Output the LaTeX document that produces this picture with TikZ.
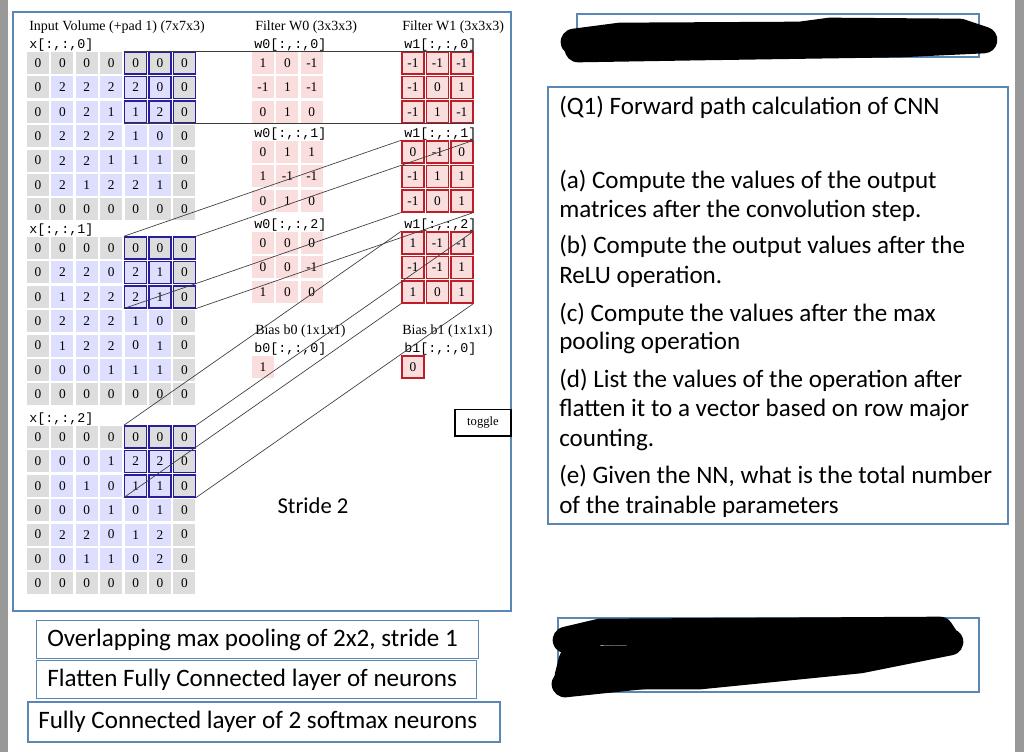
\documentclass[tikz,border=0pt]{standalone}
\usepackage{fontspec}
\setmainfont{Liberation Serif}
\newfontfamily\calib{Carlito}
\setmonofont{Liberation Mono}
\definecolor{padc}{RGB}{221,221,221}
\definecolor{inc}{RGB}{222,222,255}
\definecolor{filc}{RGB}{250,222,222}
\definecolor{hlb}{RGB}{40,30,150}
\definecolor{hlr}{RGB}{190,30,40}
\definecolor{boxb}{RGB}{90,135,180}
\definecolor{linec}{RGB}{60,60,60}
\tikzset{
  cell/.style={minimum size=16.5pt,inner sep=0pt,font=\fontsize{10}{10}\selectfont},
  hl/.style={draw=hlb,line width=1.1pt},
  hr/.style={draw=hlr,line width=1.1pt},
  lab/.style={anchor=west,inner sep=0pt,font=\fontsize{10.5}{10.5}\selectfont},
  mlab/.style={anchor=west,inner sep=0pt,font=\ttfamily\fontsize{10}{10}\selectfont},
  qtxt/.style={anchor=west,inner sep=0pt,font=\calib\fontsize{18.8}{18.8}\selectfont},
  bbox/.style={draw=boxb,line width=0.8pt},
  conn/.style={draw=linec,line width=0.5pt},
  scrib/.style={line width=20pt,line cap=round,line join=round,black}
}
\begin{document}
\begin{tikzpicture}[x=0.75pt,y=-0.75pt]
\useasboundingbox (0,0) rectangle (1024,752);
\fill[white] (0,0) rectangle (1024,752);
\fill[black!40] (0,0) rectangle (8,752);
\fill[black!40] (1015,0) rectangle (1024,752);
% main box
\draw[bbox] (13,12) rectangle (511,611);
\node[lab] (tin) at (29,27) {Input Volume (+pad 1) (7x7x3)};
\node[lab] (tw0) at (255,27) {Filter W0 (3x3x3)};
\node[lab] (tw1) at (402,27) {Filter W1 (3x3x3)};
% inputs
\foreach \k/\ty/\data in {0/63/{{0,0,0,0,0,0,0},{0,2,2,2,2,0,0},{0,0,2,1,1,2,0},{0,2,2,2,1,0,0},{0,2,2,1,1,1,0},{0,2,1,2,2,1,0},{0,0,0,0,0,0,0}},
                          1/248/{{0,0,0,0,0,0,0},{0,2,2,0,2,1,0},{0,1,2,2,2,1,0},{0,2,2,2,1,0,0},{0,1,2,2,0,1,0},{0,0,0,1,1,1,0},{0,0,0,0,0,0,0}},
                          2/437/{{0,0,0,0,0,0,0},{0,0,0,1,2,2,0},{0,0,1,0,1,1,0},{0,0,0,1,0,1,0},{0,2,2,0,1,2,0},{0,0,1,1,0,2,0},{0,0,0,0,0,0,0}}}{
  \node[mlab] (xl\k) at (29,\ty-18) {x[:,:,\k]};
  \foreach \row [count=\r from 0] in \data {
    \foreach \v [count=\c from 0] in \row {
      \pgfmathparse{(\c==0||\c==6||\r==0||\r==6)?1:0}
      \ifnum\pgfmathresult=1 \def\fc{padc}\else\def\fc{inc}\fi
      \pgfmathparse{(\c>3&&\r<3)?1:0}
      \ifnum\pgfmathresult=1 \def\st{hl}\else\def\st{}\fi
      \node[cell,fill=\fc,\st] (x\k-\r-\c) at (38+24.4*\c,\ty+24.4*\r) {\v};
    }
  }
}
% filter labels
\foreach \f/\fx in {0/263,1/413}{
  \foreach \k/\ty in {0/63,1/152,2/243}{
    \node[mlab] (wl\f\k) at (\fx-9,\ty-18) {w\f[:,:,\k]};
  }
}
\foreach \k/\ty/\data in {0/63/{{1,0,-1},{-1,1,-1},{0,1,0}},1/152/{{0,1,1},{1,-1,-1},{0,1,0}},2/243/{{0,0,0},{0,0,-1},{1,0,0}}}{
  \foreach \row [count=\r from 0] in \data {
    \foreach \v [count=\c from 0] in \row {
      \node[cell,fill=filc] (wa\k-\r-\c) at (263+24.4*\c,\ty+24.4*\r) {\v};
    }
  }
}
\foreach \k/\ty/\data in {0/63/{{-1,-1,-1},{-1,0,1},{-1,1,-1}},1/152/{{0,-1,0},{-1,1,1},{-1,0,1}},2/243/{{1,-1,-1},{-1,-1,1},{1,0,1}}}{
  \foreach \row [count=\r from 0] in \data {
    \foreach \v [count=\c from 0] in \row {
      \node[cell,fill=filc,hr] (wb\k-\r-\c) at (413+24.4*\c,\ty+24.4*\r) {\v};
    }
  }
}
% biases
\node[lab] (tb0) at (255,331) {Bias b0 (1x1x1)};
\node[mlab] (lb0) at (254,349) {b0[:,:,0]};
\node[cell,fill=filc] (b0) at (263,367) {1};
\node[lab] (tb1) at (402,331) {Bias b1 (1x1x1)};
\node[mlab] (lb1) at (404,349) {b1[:,:,0]};
\node[cell,fill=filc,hr] (b1) at (413,367) {0};
% connectors
\foreach \k in {0,1,2}{
  \draw[conn] (x\k-0-4.north west) -- (wb\k-0-0.north west);
  \draw[conn] (x\k-0-6.north east) -- (wb\k-0-2.north east);
  \draw[conn] (x\k-2-4.south west) -- (wb\k-2-0.south west);
  \draw[conn] (x\k-2-6.south east) -- (wb\k-2-2.south east);
}
% toggle
\node[draw=black,line width=1pt,minimum width=42pt,minimum height=20pt,inner sep=0pt,font=\fontsize{9.5}{9.5}\selectfont] (tog) at (483,422.5) {toggle};
\node[inner sep=0pt,font=\calib\fontsize{17}{17}\selectfont] (stride) at (313,506) {Stride 2};
% right question box
\draw[bbox] (548,87) rectangle (1008,524);
\node[qtxt] (q0) at (559,107) {(Q1) Forward path calculation of CNN};
\node[qtxt] (q1) at (559,181) {(a) Compute the values of the output};
\node[qtxt] (q2) at (559,211) {matrices after the convolution step.};
\node[qtxt] (q3) at (559,246) {(b) Compute the output values after the};
\node[qtxt] (q4) at (559,277) {ReLU operation.};
\node[qtxt] (q5) at (559,314) {(c) Compute the values after the max};
\node[qtxt] (q6) at (559,343) {pooling operation};
\node[qtxt] (q7) at (559,380) {(d) List the values of the operation after};
\node[qtxt] (q8) at (559,410) {flatten it to a vector based on row major};
\node[qtxt] (q9) at (559,440) {counting.};
\node[qtxt] (q10) at (559,476) {(e) Given the NN, what is the total number};
\node[qtxt] (q11) at (559,507) {of the trainable parameters};
% redacted boxes
\draw[bbox] (577,14) rectangle (979,57);
\draw[scrib] (574,42) -- (620,36) -- (800,35) -- (830,31) -- (960,32) -- (984,40) -- (900,44) -- (700,47) -- (578,49);
\draw[bbox] (558,618) rectangle (979,692);
\draw[scrib] (566,640) -- (600,632) -- (940,630) -- (948,642) -- (760,656) -- (572,660) -- (568,676) -- (700,676) -- (860,660) -- (950,642);
\draw[scrib] (572,668) -- (680,672) -- (565,684);
% bottom boxes
\node[bbox,minimum width=332pt,minimum height=29pt,inner sep=0pt] (p1) at (257.5,639.5) {};
\node[qtxt] (p1t) at (47,640) {Overlapping max pooling of 2x2, stride 1};
\node[bbox,minimum width=330pt,minimum height=29pt,inner sep=0pt] (p2) at (256.5,679.5) {};
\node[qtxt] (p2t) at (47,680) {Flatten Fully Connected layer of neurons};
\node[bbox,minimum width=354pt,minimum height=30pt,inner sep=0pt] (p3) at (264,722) {};
\node[qtxt] (p3t) at (38,722) {Fully Connected layer of 2 softmax neurons};
\end{tikzpicture}
\end{document}
